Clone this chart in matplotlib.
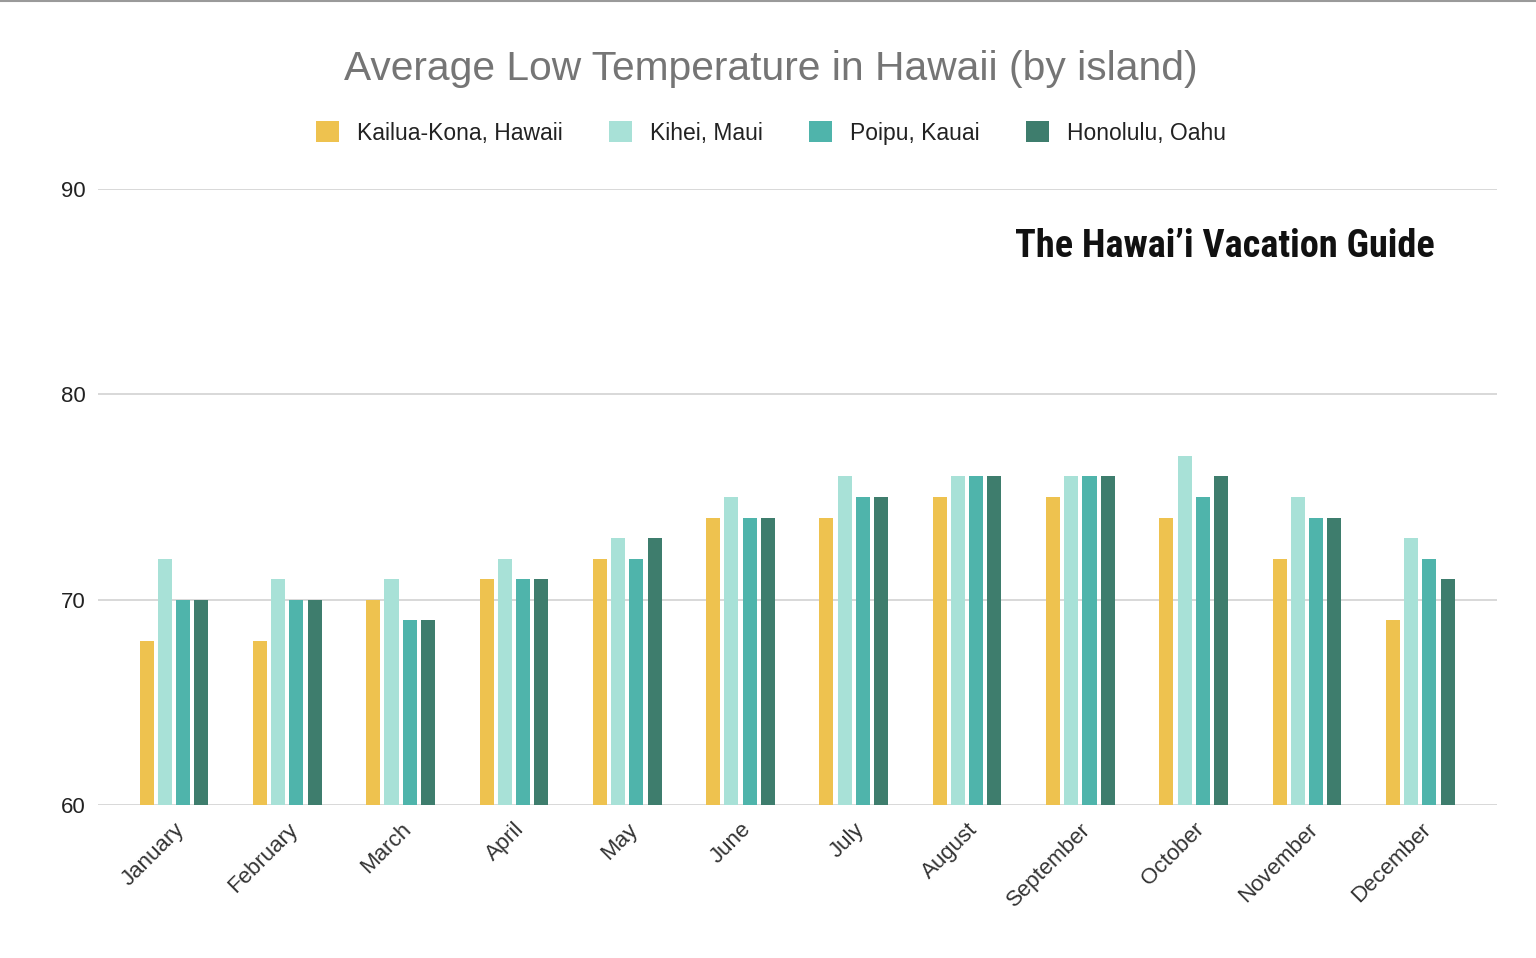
import matplotlib
matplotlib.use("Agg")
import matplotlib.pyplot as plt
import numpy as np
from matplotlib.patches import Patch
from matplotlib.lines import Line2D

months = ["January", "February", "March", "April", "May", "June", "July",
          "August", "September", "October", "November", "December"]
series_names = ["Kailua-Kona, Hawaii", "Kihei, Maui", "Poipu, Kauai", "Honolulu, Oahu"]
kona = [68, 68, 70, 71, 72, 74, 74, 75, 75, 74, 72, 69]
kihei = [72, 71, 71, 72, 73, 75, 76, 76, 76, 77, 75, 73]
poipu = [70, 70, 69, 71, 72, 74, 75, 76, 76, 75, 74, 72]
honolulu = [70, 70, 69, 71, 73, 74, 75, 76, 76, 76, 74, 71]
yticks = [60, 70, 80, 90]

colors = ["#EEC24F", "#A8E1D7", "#4FB4AB", "#3E7D6D"]
series = [kona, kihei, poipu, honolulu]

plt.rcParams['font.family'] = ['Liberation Sans', 'DejaVu Sans']

fig = plt.figure(figsize=(15.36, 9.58), dpi=100)
ax = fig.add_axes([98/1536, 1-805/958, (1497-98)/1536, (805-189)/958])

x = np.arange(len(months))
pitch = 0.161
width = 0.124
for i, (vals, c) in enumerate(zip(series, colors)):
    ax.bar(x + (i - 1.5) * pitch, np.array(vals) - 60, bottom=60, width=width,
           color=c, zorder=3, linewidth=0)

ax.set_ylim(60, 90)
ax.set_xlim((98-174)/113.3, (1497-174)/113.3)
ax.set_yticks(yticks)
ax.set_yticklabels([str(v) for v in yticks], fontsize=16, color="#222222")
ax.set_xticks(x)
ax.set_xticklabels(months, rotation=45, ha="right", rotation_mode="anchor",
                   fontsize=16, color="#333333")
ax.tick_params(axis="both", length=0)
ax.tick_params(axis="y", pad=9)
ax.tick_params(axis="x", pad=10)
for s in ax.spines.values():
    s.set_visible(False)
ax.yaxis.grid(True, color="#d6d6d6", linewidth=1.3, zorder=0)
ax.set_axisbelow(True)

fig.text(771/1536, 1-69/958, "Average Low Temperature in Hawaii (by island)",
         ha="center", va="center", fontsize=29.3, color="#757575")

handles = [Patch(facecolor=c, edgecolor="none") for c in colors]
fig.legend(handles, series_names, loc="center", bbox_to_anchor=(771/1536, 1-133/958),
           ncol=4, frameon=False, fontsize=16.5, handlelength=1.0, handleheight=1.0,
           columnspacing=2.0, handletextpad=0.8, labelcolor="#222222")

fig.text(1435/1536, 1-247/958, "The Hawai\u2019i Vacation Guide", ha="right", va="center",
         fontsize=27.5, fontweight="bold",
         family=["Roboto Condensed", "Open Sans Condensed", "DejaVu Sans"],
         fontstretch="condensed", color="#111111")

fig.add_artist(Line2D([0, 1], [0.999, 0.999], transform=fig.transFigure,
                      color="#9a9a9a", linewidth=1.5))

fig.savefig("out.png", dpi=100, facecolor="white")
